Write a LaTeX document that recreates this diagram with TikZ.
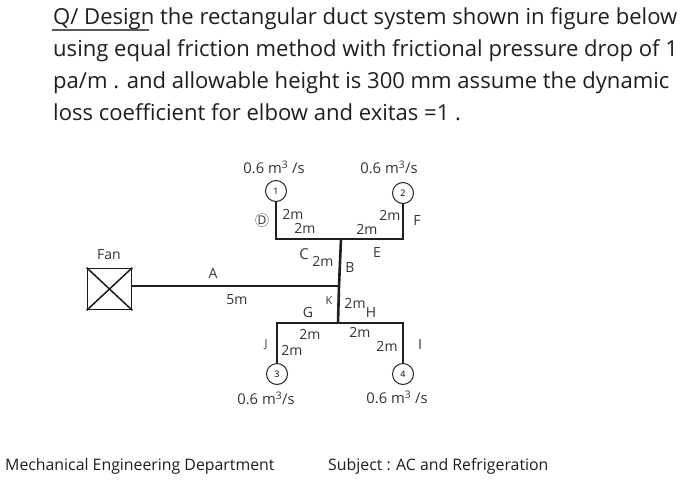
\documentclass[tikz,border=0pt]{standalone}
\usepackage{fontspec}
\setmainfont{Open Sans}
\tikzset{
  duct/.style={line width=2.6pt,black!88},
  termcirc/.style={circle,draw=black!85,line width=1pt,minimum size=21pt,inner sep=0pt,font=\fontsize{9}{9}\selectfont},
  lbl/.style={inner sep=0pt,anchor=center,text=black!80,font=\fontsize{14}{14}\selectfont},
  flowlbl/.style={lbl,font=\fontsize{14.8}{15}\selectfont},
  qline/.style={inner sep=0pt,anchor=base west,text=black!88,font=\fontsize{22.05}{24}\selectfont},
  foot/.style={inner sep=0pt,anchor=base west,text=black!88,font=\fontsize{15.85}{18}\selectfont}
}
\begin{document}
\begin{tikzpicture}[x=1pt,y=-1pt]
\useasboundingbox (0,0) rectangle (682,485);
\fill[white] (0,0) rectangle (682,485);
% question text
\node[qline] (q1) at (53,24) {Q/ Design the rectangular duct system shown in figure below};
\node[qline] (q2) at (53,56) {using equal friction method with frictional pressure drop of 1};
\node[qline] (q3) at (53,88) {pa/m . and allowable height is 300 mm assume the dynamic};
\node[qline] (q4) at (53,120) {loss coefficient for elbow and exitas =1 .};
\coordinate (ul1) at (52,30);
\coordinate (ul2) at (149,30);
\draw[black!65,line width=1.2pt] (ul1) -- (ul2);
% fan
\node[draw=black!90,line width=1.6pt,minimum width=44pt,minimum height=41pt,inner sep=0pt] (fan) at (109.5,289) {};
\draw[black!90,line width=1.5pt] (fan.north west) -- (fan.south east);
\draw[black!90,line width=1.5pt] (fan.south west) -- (fan.north east);
% terminals
\node[termcirc] (t1) at (276,191) {1};
\node[termcirc] (t2) at (403,193) {2};
\node[termcirc] (t3) at (277,374) {3};
\node[termcirc] (t4) at (403,374) {4};
% junctions
\coordinate (main) at (339,286);
\coordinate (top) at (341,239);
\coordinate (tl) at (276,239);
\coordinate (tr) at (403,239);
\coordinate (bot) at (338,323);
\coordinate (bl) at (277,323);
\coordinate (br) at (403,323);
% ducts
\draw[duct] (fan.east |- main) -- (main);
\draw[duct] (main) -- (top);
\draw[duct] (main) -- (bot);
\draw[duct] (t1) -- (tl) -- (tr) -- (t2);
\draw[duct] (t3) -- (bl) -- (br) -- (t4);
% labels
\node[lbl] (lfan) at (109,255) {Fan};
\node[lbl] (la) at (213,273) {A};
\node[lbl] (l5) at (237,300) {5m};
\node[flowlbl] (flow1) at (274,167) {0.6 m\textsuperscript{3} /s};
\node[flowlbl] (flow2) at (389,167) {0.6 m\textsuperscript{3}/s};
\node[flowlbl] (flow3) at (266,398) {0.6 m\textsuperscript{3}/s};
\node[flowlbl] (flow4) at (397,397) {0.6 m\textsuperscript{3} /s};
\node[lbl] (ld) at (262,220) {\fontsize{12}{12}\selectfont D};
\draw[black!50,line width=0.5pt] (ld) circle (6.5pt);
\node[lbl] (d1) at (293,214) {2m};
\node[lbl] (d2) at (305,228) {2m};
\node[lbl] (d3) at (390,215) {2m};
\node[lbl] (d4) at (367,229) {2m};
\node[lbl] (lf) at (417,220) {F};
\node[lbl] (le) at (377,252) {E};
\node[lbl] (lc) at (304,254) {\fontsize{15}{15}\selectfont C};
\node[lbl] (d5) at (323,261) {2m};
\node[lbl] (lb) at (350,267) {B};
\node[lbl] (lk) at (329,301) {\fontsize{11}{11}\selectfont K};
\node[lbl] (d6) at (355,303) {2m};
\node[lbl] (lh) at (371,312) {H};
\node[lbl] (lg) at (308,312) {G};
\node[lbl] (d7) at (310,334) {2m};
\node[lbl] (d8) at (360,332) {2m};
\node[lbl] (d9) at (387,346) {2m};
\node[lbl] (lj) at (266,345) {\fontsize{11}{11}\selectfont J};
\node[lbl] (d10) at (292,350) {2m};
\node[lbl] (li) at (420,344) {I};
% footer
\node[foot] (f1) at (5,470) {Mechanical Engineering Department};
\node[foot] (f2) at (328,470) {Subject : AC and Refrigeration};
\end{tikzpicture}
\end{document}
